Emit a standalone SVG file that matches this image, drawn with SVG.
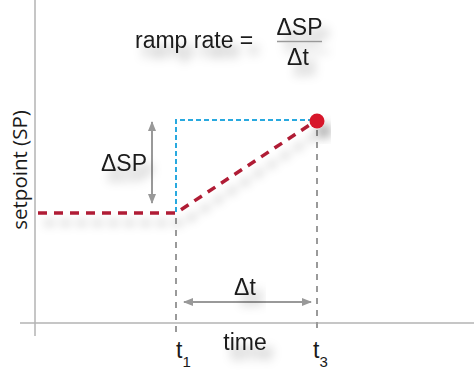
<svg xmlns="http://www.w3.org/2000/svg" width="474" height="388" viewBox="0 0 474 388">
<defs>
<style>
text{font-family:"Liberation Sans",Arial,sans-serif;fill:#1a1a1a}
.axis{stroke:#b3b3b3;stroke-width:1.5;fill:none}
.guide{stroke:#9a9a9a;stroke-width:2;stroke-dasharray:6 6;fill:none}
.sp{stroke:#b01c35;stroke-width:3.5;stroke-dasharray:9 7;fill:none}
.blue{stroke:#29a9df;stroke-width:2;stroke-dasharray:5 3;fill:none}
.arr{stroke:#999;stroke-width:2;fill:none}
</style>
<marker id="ah" viewBox="0 0 10 10" refX="9" refY="5" markerWidth="5" markerHeight="5" orient="auto-start-reverse" markerUnits="strokeWidth">
<path d="M0,1 L10,5 L0,9 z" fill="#999"/>
</marker>
<filter id="sh" x="-30%" y="-60%" width="170%" height="260%">
<feDropShadow dx="7" dy="10" stdDeviation="5" flood-color="#000" flood-opacity="0.3"/>
</filter>
</defs>
<g id="axes">
<line class="axis" x1="35" y1="0" x2="35" y2="336"/>
<line class="axis" x1="20" y1="323" x2="474" y2="323"/>
</g>
<g id="connectors">
<line class="guide" x1="176" y1="218" x2="176" y2="334"/>
<line class="guide" x1="317" y1="130" x2="317" y2="334"/>
<polyline class="blue" points="176,212 176,120 310,120"/>
<polyline class="sp" points="38,213 176,213 311,124" filter="url(#sh)"/>
<line class="arr" x1="152" y1="122" x2="152" y2="203" marker-start="url(#ah)" marker-end="url(#ah)"/>
<line class="arr" x1="184" y1="302" x2="311" y2="302" marker-start="url(#ah)" marker-end="url(#ah)"/>
</g>
<g id="endpoint">
<circle cx="317" cy="121" r="7.5" fill="#d7192a" filter="url(#sh)"/>
</g>
<g id="formula" filter="url(#sh)">
<text x="135" y="48" font-size="23">ramp rate =</text>
<text x="299.5" y="35" font-size="23" text-anchor="middle">ΔSP</text>
<line x1="277" y1="41.5" x2="322" y2="41.5" stroke="#999" stroke-width="1.5"/>
<text x="298" y="65" font-size="23" text-anchor="middle">Δt</text>
</g>
<g id="labels">
<text x="124" y="171" font-size="23" text-anchor="middle" filter="url(#sh)">ΔSP</text>
<text x="245" y="295" font-size="23" text-anchor="middle" filter="url(#sh)">Δt</text>
<text x="245" y="350" font-size="23" text-anchor="middle" filter="url(#sh)">time</text>
<text x="176" y="358" font-size="23">t<tspan font-size="15" dy="9">1</tspan></text>
<text x="313" y="358" font-size="23">t<tspan font-size="15" dy="9">3</tspan></text>
<text transform="translate(27,170) rotate(-90)" font-size="20.5" text-anchor="middle" style="font-family:'Open Sans','Liberation Sans',sans-serif">setpoint (SP)</text>
</g>
</svg>
